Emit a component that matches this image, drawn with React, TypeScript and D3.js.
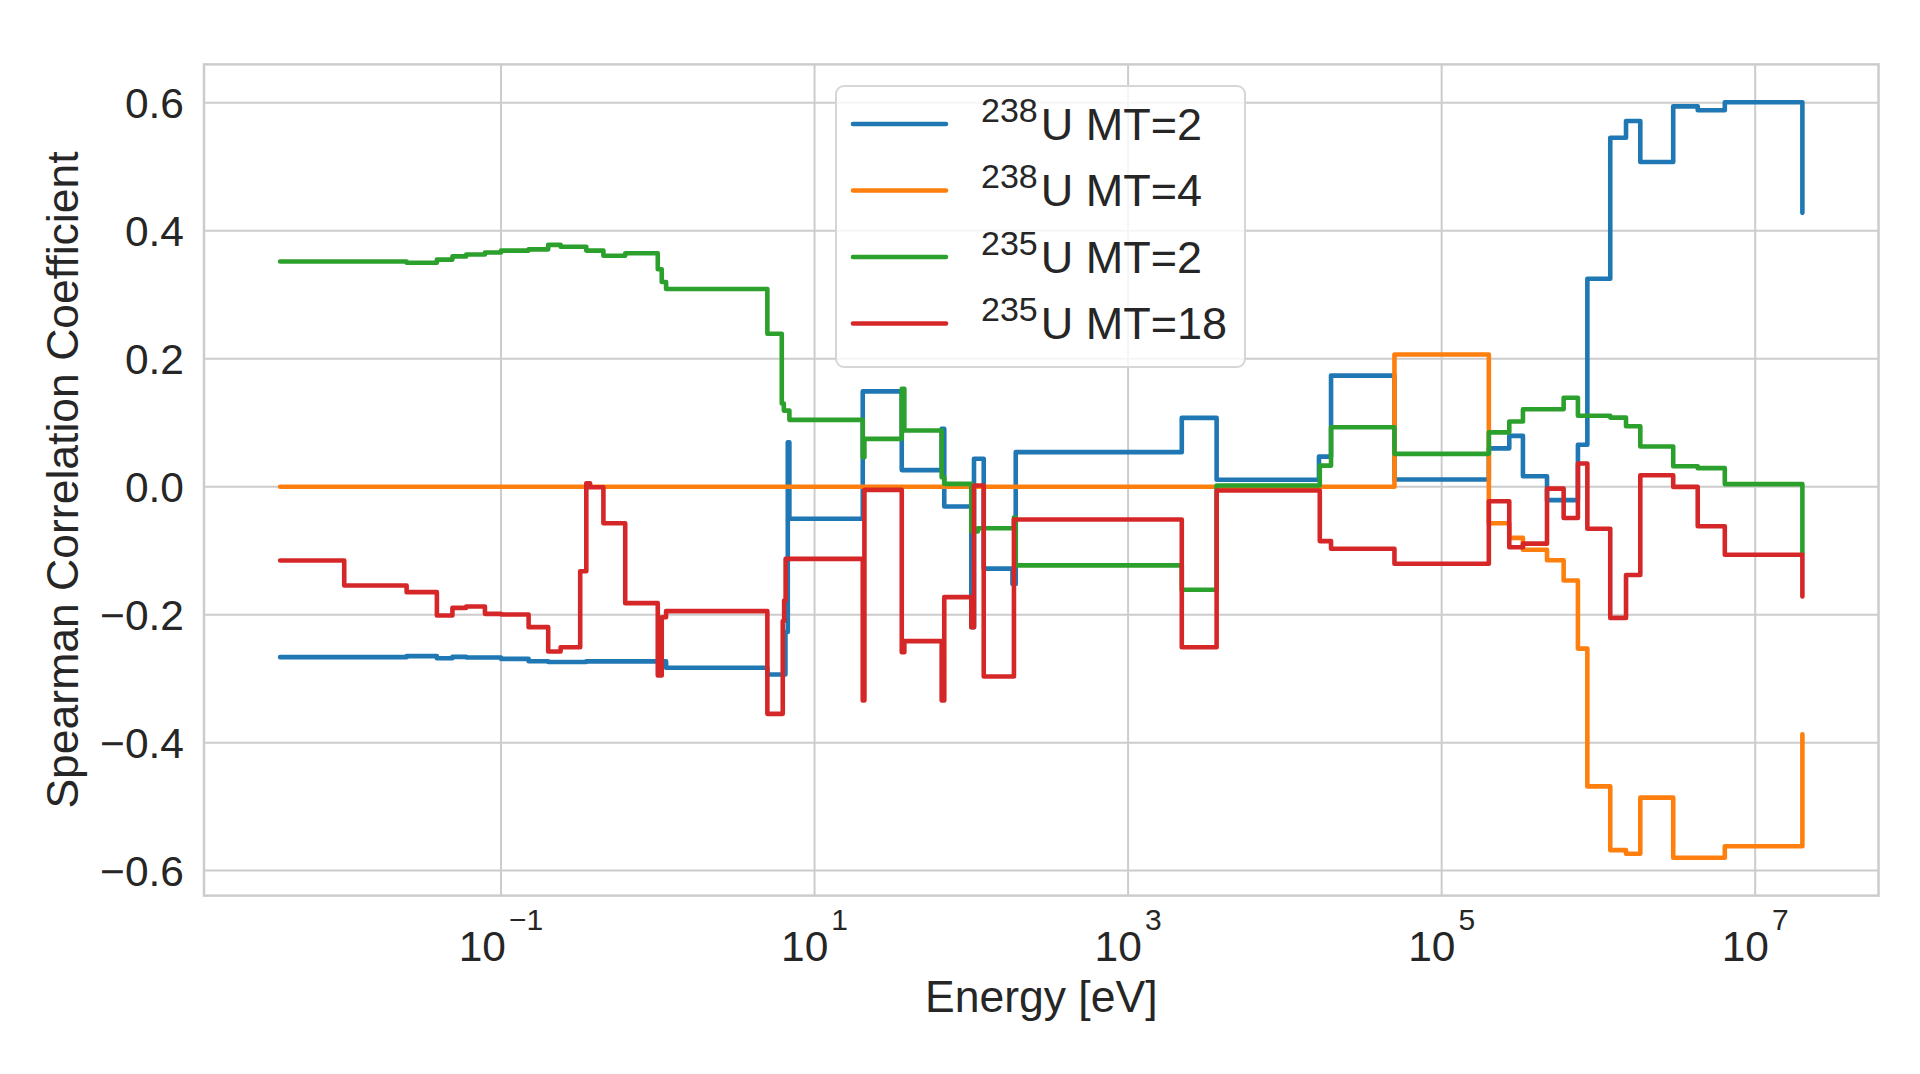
import React, { useEffect, useRef } from 'react';
import { select, scaleLog, scaleLinear, line, curveStepAfter, min, max, format } from 'd3';

// 238U MT=2 (blue)
const u238Mt2Energy = [0.0039, 0.025, 0.039, 0.049, 0.06, 0.1, 0.15, 0.2, 0.35, 1.13, 5.0, 6.52, 6.75, 6.91, 20.3, 36, 64.7, 67.2, 100, 104, 120, 183, 192, 2200, 3670, 16500, 19700, 50000, 2.0e5, 2.7e5, 3.3e5, 4.7e5, 7.4e5, 8.5e5, 1.19e6, 1.5e6, 1.85e6, 3.0e6, 4.3e6, 6.4e6, 2.0e7];
const u238Mt2Value = [-0.2664, -0.2648, -0.268, -0.266, -0.267, -0.269, -0.2727, -0.274, -0.273, -0.283, -0.2934, -0.227, 0.0695, -0.05, 0.149, 0.026, 0.0905, -0.031, -0.2195, 0.0436, -0.128, -0.152, 0.054, 0.1076, 0.0108, 0.047, 0.1737, 0.0113, 0.06, 0.0794, 0.0164, -0.021, 0.0655, 0.325, 0.5454, 0.5716, 0.5075, 0.5945, 0.5885, 0.601, 0.428];

// 238U MT=4 (orange)
const u238Mt4Energy = [0.0039, 50000, 2.0e5, 2.7e5, 3.3e5, 4.7e5, 6.0e5, 7.4e5, 8.5e5, 1.19e6, 1.5e6, 1.85e6, 3.0e6, 6.4e6, 2.0e7];
const u238Mt4Value = [0, 0.2066, -0.057, -0.08, -0.0986, -0.115, -0.1466, -0.253, -0.4684, -0.568, -0.5736, -0.486, -0.58, -0.562, -0.387];

// 235U MT=2 (green)
const u235Mt2Energy = [0.0039, 0.025, 0.039, 0.049, 0.06, 0.079, 0.1, 0.15, 0.2, 0.24, 0.35, 0.45, 0.62, 1.0, 1.06, 1.13, 5.0, 6.18, 6.37, 6.91, 20.3, 20.8, 36, 37.4, 64.7, 67.2, 100, 110, 187, 192, 2200, 3670, 16700, 19700, 50000, 2.0e5, 2.7e5, 3.3e5, 6.0e5, 7.4e5, 1.19e6, 1.5e6, 1.85e6, 3.0e6, 4.3e6, 6.4e6, 2.0e7];
const u235Mt2Value = [0.352, 0.35, 0.355, 0.36, 0.363, 0.366, 0.369, 0.371, 0.378, 0.375, 0.369, 0.361, 0.365, 0.34, 0.32, 0.309, 0.239, 0.13, 0.119, 0.1045, 0.046, 0.0748, 0.153, 0.0878, 0.0148, 0.0045, -0.07, -0.065, -0.048, -0.123, -0.161, 0.002, 0.033, 0.093, 0.0514, 0.085, 0.102, 0.121, 0.139, 0.111, 0.108, 0.0945, 0.0628, 0.032, 0.029, 0.004, -0.105];

// 235U MT=18 (red)
const u235Mt18Energy = [0.0039, 0.01, 0.025, 0.039, 0.049, 0.06, 0.079, 0.1, 0.15, 0.2, 0.24, 0.32, 0.35, 0.37, 0.45, 0.62, 1.0, 1.06, 1.13, 5.0, 6.27, 6.4, 6.54, 20.3, 20.8, 36, 37.4, 64.7, 67.2, 100, 104, 120, 187, 2200, 3670, 16700, 19700, 50000, 2.0e5, 2.7e5, 3.3e5, 4.7e5, 6.0e5, 7.4e5, 8.5e5, 1.19e6, 1.5e6, 1.85e6, 3.0e6, 4.3e6, 6.4e6, 2.0e7];
const u235Mt18Value = [-0.1153, -0.1544, -0.1648, -0.2013, -0.1893, -0.1872, -0.1987, -0.1997, -0.2195, -0.2575, -0.2508, -0.132, 0.0055, -0.0008, -0.057, -0.182, -0.295, -0.204, -0.1945, -0.355, -0.21, -0.178, -0.1127, -0.334, -0.0049, -0.2586, -0.2414, -0.334, -0.1726, -0.2195, 0.0019, -0.2966, -0.0512, -0.2508, -0.006, -0.085, -0.097, -0.1205, -0.0226, -0.0945, -0.089, -0.003, -0.049, 0.0364, -0.0656, -0.205, -0.138, 0.018, -0.0003, -0.0617, -0.1064, -0.1716];

const legendMass = ['238', '238', '235', '235'];
const legendReaction = ['U MT=2', 'U MT=4', 'U MT=2', 'U MT=18'];
const seriesColors = ['#1f77b4', '#ff7f0e', '#2ca02c', '#d62728'];

const xTickExponents = [-1, 1, 3, 5, 7];
const yTicks = [-0.6, -0.4, -0.2, 0.0, 0.2, 0.4, 0.6];

const W = 1920;
const H = 1074;
const plot = { left: 204, top: 64.4, right: 1878.5, bottom: 895.6 };
const FONT = '"Liberation Sans", Arial, "DejaVu Sans", sans-serif';
const TEXT = '#262626';
const GRID = '#cccccc';
const LINE_W = 4.6;

export default function App() {
    const svgRef: { current: SVGSVGElement | null } = useRef(null);

    useEffect(() => {
        const svg = select(svgRef.current);
        svg.selectAll('*').remove();

        const series = [
            { energy: u238Mt2Energy, value: u238Mt2Value },
            { energy: u238Mt4Energy, value: u238Mt4Value },
            { energy: u235Mt2Energy, value: u235Mt2Value },
            { energy: u235Mt18Energy, value: u235Mt18Value },
        ].map((s, i) => ({
            points: s.energy.map((e, j) => [e, s.value[j]] as [number, number]),
            color: seriesColors[i],
            mass: legendMass[i],
            reaction: legendReaction[i],
        }));

        const allE = series.flatMap((s) => s.points.map((p) => p[0]));
        const allV = series.flatMap((s) => s.points.map((p) => p[1]));

        // matplotlib-like 5% margins (log space for x)
        const lo = Math.log10(min(allE) as number);
        const hi = Math.log10(max(allE) as number);
        const padX = (hi - lo) * 0.05;
        const xScale = scaleLog()
            .domain([10 ** (lo - padX), 10 ** (hi + padX)])
            .range([plot.left, plot.right]);

        const vMin = min(allV) as number;
        const vMax = max(allV) as number;
        const padY = (vMax - vMin) * 0.05;
        const yScale = scaleLinear()
            .domain([vMin - padY, vMax + padY])
            .range([plot.bottom, plot.top]);

        // grid
        const grid = svg.append('g');
        grid.selectAll('.gx')
            .data(xTickExponents)
            .join('line')
            .attr('x1', (d) => xScale(10 ** d))
            .attr('x2', (d) => xScale(10 ** d))
            .attr('y1', plot.top)
            .attr('y2', plot.bottom)
            .attr('stroke', GRID)
            .attr('stroke-width', 2);
        grid.selectAll('.gy')
            .data(yTicks)
            .join('line')
            .attr('x1', plot.left)
            .attr('x2', plot.right)
            .attr('y1', (d) => yScale(d))
            .attr('y2', (d) => yScale(d))
            .attr('stroke', GRID)
            .attr('stroke-width', 2);

        // lines
        const stepLine: any = line()
            .x((d) => xScale(d[0]))
            .y((d) => yScale(d[1]))
            .curve(curveStepAfter);

        svg.append('g')
            .selectAll('path')
            .data(series)
            .join('path')
            .attr('d', (d) => stepLine(d.points))
            .attr('fill', 'none')
            .attr('stroke', (d) => d.color)
            .attr('stroke-width', LINE_W)
            .attr('stroke-linecap', 'round')
            .attr('stroke-linejoin', 'round');

        // frame
        svg.append('rect')
            .attr('x', plot.left)
            .attr('y', plot.top)
            .attr('width', plot.right - plot.left)
            .attr('height', plot.bottom - plot.top)
            .attr('fill', 'none')
            .attr('stroke', GRID)
            .attr('stroke-width', 2.5);

        // y tick labels
        const fmt = format('.1f');
        svg.append('g')
            .selectAll('text')
            .data(yTicks)
            .join('text')
            .attr('x', 184)
            .attr('y', (d) => yScale(d) + 15)
            .attr('text-anchor', 'end')
            .attr('font-family', FONT)
            .attr('font-size', 42.5)
            .attr('fill', TEXT)
            .text((d) => fmt(d));

        // x tick labels 10^n
        const xt = svg.append('g')
            .selectAll('text')
            .data(xTickExponents)
            .join('text')
            .attr('x', (d) => xScale(10 ** d))
            .attr('y', 961)
            .attr('text-anchor', 'middle')
            .attr('font-family', FONT)
            .attr('font-size', 42.5)
            .attr('fill', TEXT);
        xt.append('tspan').text('10');
        xt.append('tspan')
            .attr('dy', -31)
            .attr('dx', 3)
            .attr('font-size', 30)
            .text((d) => (d < 0 ? '\u2212' + Math.abs(d) : String(d)));

        // axis labels
        svg.append('text')
            .attr('x', (plot.left + plot.right) / 2)
            .attr('y', 1012)
            .attr('text-anchor', 'middle')
            .attr('font-family', FONT)
            .attr('font-size', 44.5)
            .attr('fill', TEXT)
            .text('Energy [eV]');
        svg.append('text')
            .attr('transform', `translate(78,${(plot.top + plot.bottom) / 2}) rotate(-90)`)
            .attr('text-anchor', 'middle')
            .attr('font-family', FONT)
            .attr('font-size', 44.5)
            .attr('fill', TEXT)
            .text('Spearman Correlation Coefficient');

        // legend
        const legend = svg.append('g');
        legend.append('rect')
            .attr('x', 836)
            .attr('y', 86)
            .attr('width', 409)
            .attr('height', 281)
            .attr('rx', 8)
            .attr('fill', '#ffffff')
            .attr('fill-opacity', 0.8)
            .attr('stroke', '#d6d6d6')
            .attr('stroke-width', 2);
        const rows = legend.selectAll('.row')
            .data(series)
            .join('g')
            .attr('transform', (d, i) => `translate(0,${124 + i * 66.5})`);
        rows.append('line')
            .attr('x1', 853)
            .attr('x2', 946)
            .attr('stroke', (d) => d.color)
            .attr('stroke-width', LINE_W)
            .attr('stroke-linecap', 'round');
        const lt = rows.append('text')
            .attr('x', 981)
            .attr('y', 15.5)
            .attr('font-family', FONT)
            .attr('font-size', 45)
            .attr('fill', TEXT);
        lt.append('tspan')
            .attr('font-size', 34)
            .attr('dy', -18)
            .text((d) => d.mass);
        lt.append('tspan')
            .attr('dy', 18)
            .attr('dx', 3)
            .text((d) => d.reaction);
    }, []);

    return (
        <svg
            ref={svgRef}
            width={W}
            height={H}
            style={{ position: 'absolute', left: 0, top: 0, background: '#ffffff' }}
        />
    );
}
